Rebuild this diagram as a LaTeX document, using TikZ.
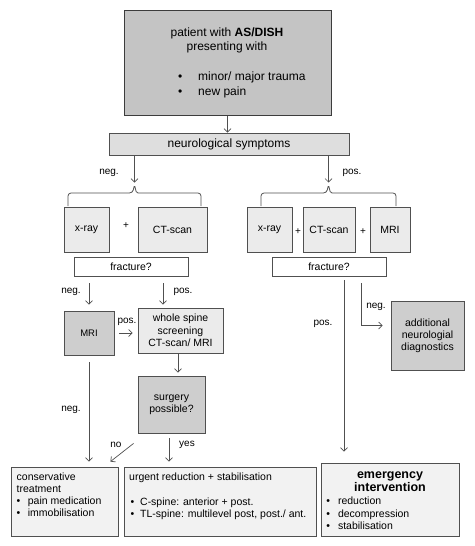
\documentclass[tikz,border=0pt]{standalone}
\usepackage{fontspec}
\setmainfont{Liberation Sans}
\usepackage{xcolor}
\usepackage{tikz}
\usetikzlibrary{arrows, arrows.meta, positioning}
\definecolor{linegray}{RGB}{80, 80, 80}
\definecolor{darkline}{RGB}{60, 60, 60}
\definecolor{topfill}{RGB}{196, 196, 196}
\definecolor{darkfill}{RGB}{206, 206, 206}
\definecolor{neurofill}{RGB}{222, 222, 222}
\definecolor{lightfill}{RGB}{235, 235, 235}
\definecolor{palefill}{RGB}{242, 242, 242}

\begin{document}
\begin{tikzpicture}[x=1pt, y=-1pt,
  every node/.style={inner sep=0pt},
  txt/.style={font=\fontsize{10.5}{12}\selectfont},
  bigtxt/.style={font=\fontsize{12}{14}\selectfont},
  lbl/.style={font=\fontsize{10}{12}\selectfont},
  box/.style={draw=linegray, line width=0.8pt, txt, align=center},
  arr/.style={-{Straight Barb[length=3.5pt, width=7pt]}, draw=linegray, line width=0.7pt},
  curly/.style={draw=linegray, line width=0.8pt, rounded corners=3pt}]
\useasboundingbox (0,0) rectangle (474,546);

% start
\node[box, fill=topfill, draw=darkline, line width=1pt, minimum width=207pt, minimum height=105pt] (patient) at (227.5,62.5) {};
\node[bigtxt, align=center] (patienttxt) at (227,40.5) {patient with \textbf{AS/DISH}\\presenting with};
\node[bigtxt, align=left, anchor=west] (patientlist) at (178,84.5) {\textbullet\hspace{15.8pt}minor/ major trauma\\[1pt]\textbullet\hspace{15.8pt}new pain};

\node[box, bigtxt, fill=neurofill, minimum width=240pt, minimum height=22pt] (neuro) at (229,144) {neurological symptoms};
\draw[arr] (patient.south) -- (patient.south |- neuro.north);

% braces
\coordinate (ltip) at (134.5,185);
\coordinate (rtip) at (328.5,185);
\draw[curly] (68,206) -- (68,193) -- (132.5,193) [rounded corners=1.5pt] -- (ltip) -- (136.5,193) [rounded corners=3pt] -- (201,193) -- (201,206);
\draw[curly] (261,206) -- (261,193) -- (326.5,193) [rounded corners=1.5pt] -- (rtip) -- (330.5,193) [rounded corners=3pt] -- (396,193) -- (396,206);
\draw[arr, shorten >=2.5pt] (neuro.south -| ltip) -- (ltip);
\draw[arr, shorten >=2.5pt] (neuro.south -| rtip) -- (rtip);
\node[lbl] (negA) at (109,173) {neg.};
\node[lbl] (posA) at (352,173) {pos.};

% imaging
\node[box, fill=lightfill, minimum width=45pt, minimum height=45pt] (lxray) at (86.5,229.5) {x-ray};
\node[box, fill=lightfill, minimum width=69pt, minimum height=45pt] (lct) at (172.5,229.5) {CT-scan};
\node[lbl] (lplus) at (126,226) {+};
\node[box, fill=lightfill, minimum width=45pt, minimum height=45pt] (rxray) at (269.5,229.5) {x-ray};
\node[box, fill=lightfill, minimum width=52pt, minimum height=45pt] (rct) at (329,229.5) {CT-scan};
\node[box, fill=lightfill, minimum width=40pt, minimum height=45pt] (rmri) at (390,229.5) {MRI};
\node[lbl] (rplusA) at (298,232) {+};
\node[lbl] (rplusB) at (363,232) {+};

\node[box, fill=white, minimum width=114pt, minimum height=19pt] (lfrac) at (131,266.5) {fracture?};
\node[box, fill=white, minimum width=114pt, minimum height=19pt] (rfrac) at (329,266.5) {fracture?};

% left branch
\node[box, fill=darkfill, font=\fontsize{9.5}{11}\selectfont, minimum width=50pt, minimum height=44pt] (lmri) at (89,333) {MRI};
\node[box, fill=lightfill, font=\fontsize{10.5}{12.5}\selectfont, minimum width=85pt, minimum height=45pt] (spine) at (180.5,330.5) {whole spine\\screening\\CT-scan/ MRI};
\node[box, fill=darkfill, minimum width=67pt, minimum height=57pt] (surgery) at (171.5,404.5) {surgery\\possible?};

\draw[arr, shorten <=7pt, shorten >=6pt] (lmri.north |- lfrac.south) -- (lmri.north);
\draw[arr, shorten <=7pt, shorten >=3pt] ([xshift=-17.5pt]spine.north |- lfrac.south) -- ([xshift=-17.5pt]spine.north);
\node[lbl] (negB) at (71,292) {neg.};
\node[lbl] (posB) at (183,292) {pos.};
\draw[arr, shorten <=5pt, shorten >=5pt] (lmri.east) -- (lmri.east -| spine.west);
\node[lbl] (posC) at (127,322) {pos.};
\draw[arr, shorten >=3pt] ([xshift=-2.5pt]spine.south) -- ([xshift=-2.5pt]spine.south |- surgery.north);

% right branch
\node[box, fill=darkfill, minimum width=73pt, minimum height=69pt] (addl) at (427.5,335.5) {additional\\neurologial\\diagnostics};
\draw[arr, shorten <=7pt, shorten >=8pt] ([xshift=32pt]rfrac.south) |- ([yshift=10pt]addl.west);
\node[lbl] (posD) at (323,324) {pos.};
\node[lbl] (negD) at (376,307) {neg.};

% outcomes
\node[box, fill=palefill, minimum width=107pt, minimum height=69pt] (conserv) at (64.5,501.5) {};
\node[txt, align=left, anchor=north west] (conservtxt) at (16.5,472.5) {conservative\\treatment\\\textbullet\hspace{7.5pt}pain medication\\\textbullet\hspace{7.5pt}immobilisation};
\node[box, fill=palefill, minimum width=192pt, minimum height=69pt] (urgent) at (220,501.5) {};
\node[txt, align=left, anchor=north west] (urgenttxt) at (129,472.5) {urgent reduction + stabilisation\\[13pt]\hspace*{1.5pt}\textbullet\hspace{5.8pt}C-spine: anterior + post.\\\hspace*{1.5pt}\textbullet\hspace{5.8pt}TL-spine: multilevel post, post./ ant.};
\node[box, fill=palefill, minimum width=138pt, minimum height=73pt] (emerg) at (390,499.5) {};
\node[bigtxt, font=\fontsize{12.5}{13}\selectfont\bfseries, align=center] (emergtitle) at (390,481.5) {emergency\\intervention};
\node[font=\fontsize{10.5}{12.5}\selectfont, align=left, anchor=north west] (emerglist) at (326.2,497) {\textbullet\hspace{8pt}reduction\\\textbullet\hspace{8pt}decompression\\\textbullet\hspace{8pt}stabilisation};

\draw[arr, shorten <=4pt, shorten >=11pt] ([xshift=15pt]rfrac.south) -- ([xshift=15pt]rfrac.south |- emerg.north);
\draw[arr, shorten <=7pt, shorten >=5pt] (lmri.south) -- (lmri.south |- conserv.north);
\node[lbl] (negC) at (71,410) {neg.};
\draw[arr] ([shift={(-4,10)}]surgery.south west) -- ([shift={(-8,-5)}]conserv.north east);
\node[lbl] (noA) at (116,445) {no};
\draw[arr, shorten <=5pt, shorten >=5pt] ([xshift=-2.5pt]surgery.south) -- ([xshift=-2.5pt]surgery.south |- urgent.north);
\node[lbl] (yesA) at (187,445) {yes};
\end{tikzpicture}
\end{document}
